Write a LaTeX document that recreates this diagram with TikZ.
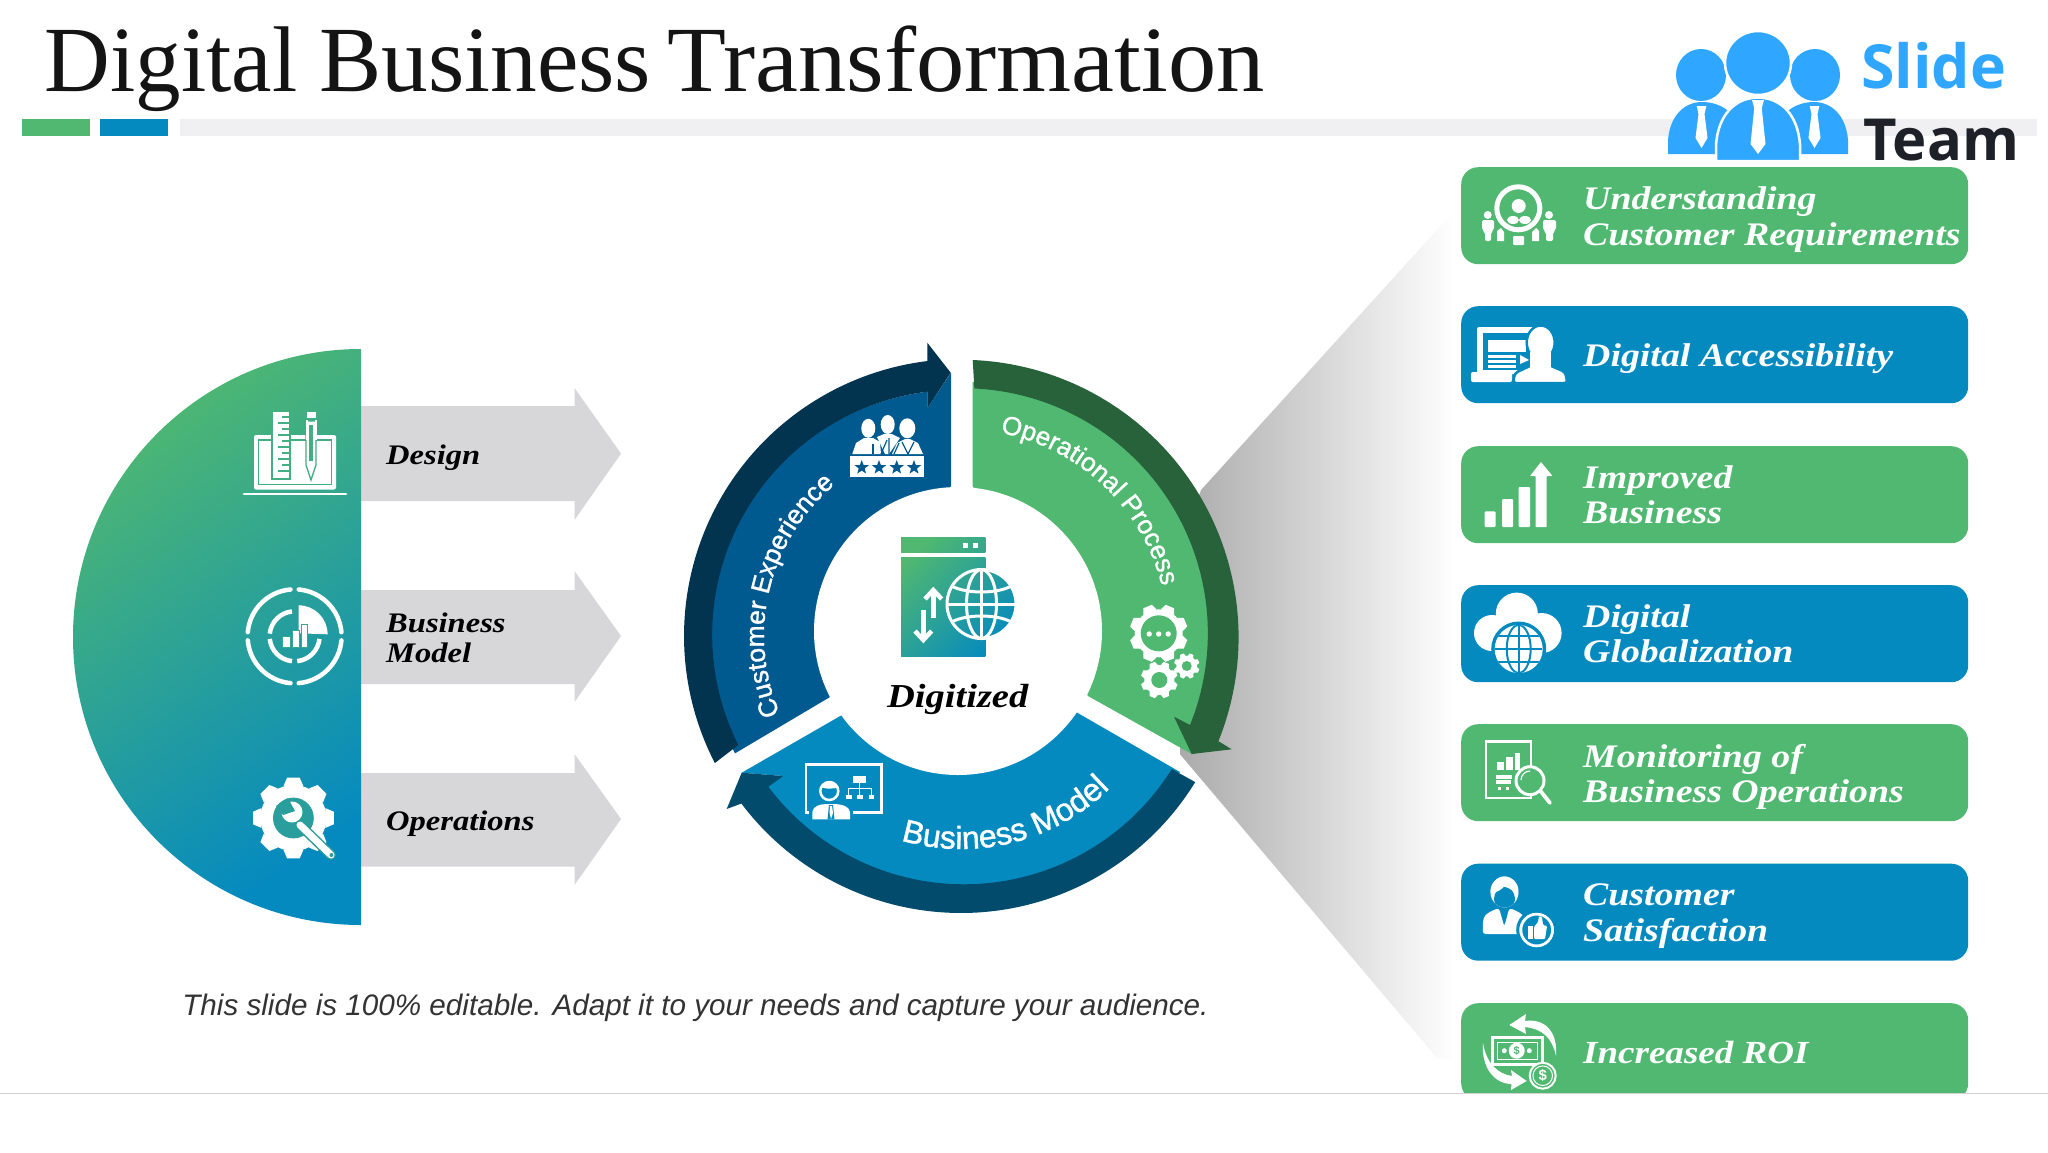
\documentclass[tikz,border=0pt]{standalone}
\usepackage{fontspec}
\usetikzlibrary{shapes.geometric,decorations.text}
\setmainfont{Liberation Serif}
\newfontfamily\geo[FakeStretch=1.15]{Liberation Serif}
\newfontfamily\titleA[FakeStretch=0.975]{Liberation Serif}
\newfontfamily\titleC[FakeStretch=1.034]{Liberation Serif}
\newfontfamily\sans{Liberation Sans}
\newfontfamily\arcfont[FakeBold=1.2]{Liberation Sans}
\newfontfamily\logofont{Open Sans}
\newcommand{\fsz}[1]{\fontsize{#1}{#1}\selectfont}
\definecolor{grn}{HTML}{50B870}
\definecolor{blu}{HTML}{058ABF}
\definecolor{dkgrn}{HTML}{27623A}
\definecolor{midnavy}{HTML}{015A8F}
\definecolor{navy}{HTML}{02344F}
\definecolor{dkblu}{HTML}{024B6C}
\definecolor{arrowgray}{HTML}{D7D7DA}
\definecolor{barlight}{HTML}{F0F0F2}
\definecolor{logoblue}{HTML}{2FA6FF}
\definecolor{logodark}{HTML}{1E2228}
\definecolor{desbg}{HTML}{42AE82}
\definecolor{bmbg}{HTML}{35A690}
\definecolor{opbg}{HTML}{2A9E9C}
% gear: x y Rout Rroot Rhole holecolor offset
\newcommand{\gearicon}[7]{%
  \fill[white] (#1,#2) circle (#4);
  \foreach \a in {0,45,...,315}{
    \fill[white,shift={(#1,#2)},rotate=\a+#7] (#4-1,-0.30*#4) -- (#3,-0.19*#4) -- (#3,0.19*#4) -- (#4-1,0.30*#4) -- cycle;
  }
  \fill[#6] (#1,#2) circle (#5);
}
% logo tie: x top halfwidth bottom
\newcommand{\logotie}[4]{%
  \fill[white] (#1-#3*0.8,#2) -- (#1+#3*0.8,#2) -- (#1+#3*0.5,#2+8) -- (#1+#3,#4-10) -- (#1,#4) -- (#1-#3,#4-10) -- (#1-#3*0.5,#2+8) -- cycle;
}
\tikzset{
  boxstyle/.style={rounded corners=17pt,minimum width=507pt,minimum height=97pt,inner sep=0pt,anchor=north west},
  boxtxt/.style={anchor=west,align=left,inner sep=0pt,text=white,font=\geo\bfseries\itshape\fsz{32.9}},
  armlabel/.style={anchor=west,align=left,inner sep=0pt,text=black,font=\geo\bfseries\itshape\fsz{28.3}},
  arrowshape/.style={fill=arrowgray},
  arclabel/.style={decorate,decoration={text along path,text align=center,raise=0pt}}
}
\begin{document}
\begin{tikzpicture}[x=1pt,y=-1pt]
\useasboundingbox (0,0) rectangle (2048,1152);
\fill[white] (0,0) rectangle (2048,1152);

% ---------- header ----------
\node[anchor=base west,inner sep=0pt,text=black!92,font=\fsz{93.3}] (title) at (44.7,91) {{\titleA Digital}\kern-1.5pt{} Business\kern-6.5pt{} {\titleC Transformation}};
\fill[grn] (22,119) rectangle (90,136);
\fill[blu] (100,119) rectangle (168,136);
\fill[barlight] (180,119) rectangle (2037,136);

% ---------- logo ----------
\fill[logoblue] (1701,75) ellipse (25 and 26);
\fill[logoblue] (1815,75) ellipse (25 and 26);
\fill[logoblue] (1668,154) -- (1668,140) .. controls (1670,115) and (1685,102) .. (1702,102) .. controls (1720,102) and (1735,112) .. (1740,130) -- (1740,154) -- cycle;
\fill[logoblue] (1848,154) -- (1848,140) .. controls (1846,115) and (1831,102) .. (1814,102) .. controls (1796,102) and (1781,112) .. (1776,130) -- (1776,154) -- cycle;
\logotie{1701.5}{106}{6}{148}
\logotie{1814.5}{106}{6}{148}
\filldraw[fill=logoblue,draw=white,line width=2.5pt] (1758,63) ellipse (33 and 32);
\filldraw[fill=logoblue,draw=white,line width=2.5pt] (1716,161) -- (1716,145) .. controls (1718,115) and (1735,97.6) .. (1758,97.6) .. controls (1781,97.6) and (1798,115) .. (1800,145) -- (1800,161) -- cycle;
\logotie{1758}{100}{7.5}{154}
\node[anchor=base west,inner sep=0pt,text=logoblue,font=\logofont\bfseries\fsz{60.8}] (slide) at (1861,88) {Slide};
\node[anchor=base west,inner sep=0pt,text=logodark,font=\logofont\bfseries\fsz{58}] (team) at (1863,160) {Team};

% ---------- left half circle ----------
\fill[arrowshape] (361,406) -- (574.5,406) -- (574.5,388) -- (621,453.6) -- (574.5,520) -- (574.5,501) -- (361,501) -- cycle;
\fill[arrowshape] (361,590) -- (574.5,590) -- (574.5,571) -- (621,636) -- (574.5,702) -- (574.5,684) -- (361,684) -- cycle;
\fill[arrowshape] (361,773) -- (574.5,773) -- (574.5,754) -- (621,819) -- (574.5,885) -- (574.5,866.5) -- (361,866.5) -- cycle;
\shade[left color=grn,right color=blu,shading angle=35] (361,349) arc[start angle=-90,end angle=-270,radius=288] -- cycle;
\node[armlabel] (ldesign) at (386,457.5) {Design};
\node[armlabel,execute at begin node=\setlength{\baselineskip}{30pt}] (lmodel) at (386,638) {Business\\Model};
\node[armlabel] (lops) at (386,823.5) {Operations};

% design icon
\fill[white,rounded corners=2pt] (254,435) rectangle (336,489.5);
\draw[desbg,line width=1.6pt] (258.5,440) rectangle (331.5,484.5);
\draw[white,line width=2.6pt,line cap=round] (244,494) -- (346,494);
\fill[desbg] (270.5,433) rectangle (291,479.5);
\fill[white] (272.7,411.7) rectangle (289.3,478);
\foreach \yy/\ln in {417/7,423/11,429/7,435/11,441/7,447/11,453/7,459/11,465/7,471/11}{
  \draw[desbg,line width=1.5pt] (289.3,\yy) -- (289.3-\ln,\yy);
}
\fill[white] (306.7,411.7) rectangle (315.7,418.3);
\draw[desbg,fill=white,line width=1.4pt] (306,421) -- (316,421) -- (316,465) -- (311,480) -- (306,465) -- cycle;
\fill[desbg] (309.3,425) rectangle (312.7,461);
\fill[white] (305.5,420) rectangle (307.5,440);
\fill[white] (314.5,420) rectangle (316.5,440);

% business model icon
\begin{scope}[shift={(294.6,636.3)}]
\foreach \s in {0,90,180,270}{
  \draw[white,line width=4.5pt,line cap=round] (\s+5:47) arc[start angle=\s+5,end angle=\s+85,radius=47];
}
\foreach \s in {0,90,180}{
  \draw[white,line width=4.5pt] (\s+6:25) arc[start angle=\s+6,end angle=\s+84,radius=25];
}
\fill[white] (4,-31) arc[start angle=-90,end angle=0,radius=29] -- (4,-3) -- cycle;
\filldraw[fill=white,draw=bmbg,line width=1.2pt] (-12,0) rectangle (-4.5,11.5);
\filldraw[fill=white,draw=bmbg,line width=1.2pt] (-2.5,-6) rectangle (5,11.5);
\filldraw[fill=white,draw=bmbg,line width=1.2pt] (6.5,-12) rectangle (12.5,11.5);
\end{scope}

% operations icon
\gearicon{293.4}{818}{40.4}{33}{20.4}{opbg}{0}
\draw[opbg,line width=10pt,line cap=round] (303,828) -- (331,855);
\draw[white,line width=7pt,line cap=round] (300,825) -- (331,855);
\fill[white] (292,812) circle (10.5);
\fill[opbg] (288,798) -- (295,811) -- (283,815) -- (276,806) -- cycle;
\fill[opbg] (331.5,855) circle (2);

% ---------- shadow ----------
\begin{scope}
\clip (1160,600) -- (1201,490) -- (1455,210) -- (1455,1060) -- (1437,1058) -- (1168,740) -- cycle;
\shade[left color=black!33,right color=white] (1180,180) rectangle (1455,1080);
\end{scope}

% ---------- ring ----------
\coordinate (C) at (961,636);
\coordinate (CB) at (961,638);
% green segment
\fill[grn] (972.7,486) -- (972.7,382) arc[start angle=-87.3,end angle=22,radius=255] -- (1191.7,754) -- (1088,696) -- cycle;
\fill[dkgrn] (972.7,360) arc[start angle=-87.6,end angle=22,radius=277.5] -- (1231.7,749.3) -- (1191.7,754) -- (1174,716.7) -- (1190,725) arc[start angle=22,end angle=-87.3,radius=245] -- cycle;
% customer segment
\fill[midnavy] (951,486) -- (951,372.7) -- (927.3,408.3) -- (927.3,391.7) arc[start angle=263,end angle=153,radius=250] -- (830,697) -- cycle;
\fill[navy] (C) ++(152.7:277) arc[start angle=152.7,end angle=263,radius=277] -- (927.3,342.7) -- (950.7,372.7) -- (927.3,408.3) -- (927.3,391.7) arc[start angle=263,end angle=153.3,radius=245] -- cycle;
% business segment
\fill[blu] (1076,712) -- (1180,772) arc[start angle=32,end angle=143,radius=258] -- (783.3,776) -- (741.7,772.7) -- (842,715) -- cycle;
\fill[dkblu] (CB) ++(31.6:275) arc[start angle=31.6,end angle=143,radius=275] -- (726.7,809) -- (741.7,772.7) -- (783.3,776) -- (768.3,786.7) arc[start angle=143,end angle=32,radius=245] -- cycle;
% centre
\fill[white] (958,631) circle (144);

% arc labels
\path[arclabel,decoration={text={|\color{white}\arcfont\fsz{26.3}|Customer Experience}}] (C) ++(140:197) arc[start angle=140,end angle=247,radius=197];
\path[arclabel,decoration={text={|\color{white}\arcfont\fsz{26}|Operational Process}}] (C) ++(-100:207) arc[start angle=-100,end angle=7,radius=207];
\path[arclabel,decoration={text={|\color{white}\arcfont\fsz{32}|Business Model}}] (C) ++(125:213) arc[start angle=125,end angle=27,radius=213];

% centre icon
\foreach \cl in {1,2,3}{
\begin{scope}
  \ifnum\cl=1 \clip (901,537.7) rectangle (985.3,552.3); \fi
  \ifnum\cl=2 \clip (901,557.3) rectangle (985.3,656.7); \fi
  \ifnum\cl=3 \clip (981.5,604) circle (35); \fi
  \shade[left color=grn,right color=blu,shading angle=45] (895,535) rectangle (1020,660);
\end{scope}
}
\fill[white] (963.3,542.7) rectangle (968.3,547.7);
\fill[white] (973.3,542.7) rectangle (978.3,547.7);
\begin{scope}[white,line width=3pt]
\draw (981.5,604) circle (34.5);
\draw (981.5,604) ellipse (15 and 34.5);
\draw (981.5,569.5) -- (981.5,638.5);
\draw (947,604) -- (1016,604);
\draw (951.5,586) .. controls (966.5,594) and (996.5,594) .. (1011.5,586);
\draw (951.5,622) .. controls (966.5,614) and (996.5,614) .. (1011.5,622);
\end{scope}
\begin{scope}[white,line width=4.5pt]
\draw (933.3,590) -- (933.3,618.3);
\draw (925,599) -- (933.3,590) -- (941.6,599);
\draw (923.3,610) -- (923.3,639);
\draw (915,631) -- (923.3,640) -- (931.6,631);
\end{scope}
\node[anchor=center,inner sep=0pt,text=black,font=\geo\bfseries\itshape\fsz{33.5}] (digit) at (957.7,699) {Digitized};

% customer icon
\fill[white] (850,456) rectangle (924.3,477.3);
\foreach \i/\sx in {1/861.7,2/879,3/896.7,4/914}{
  \node[star,star points=5,star point ratio=2.4,fill=midnavy,minimum size=15pt,inner sep=0pt] (st\i) at (\sx,467.5) {};
}
\fill[white] (868.3,428.3) ellipse (7 and 9.5);
\fill[white] (887.7,424.5) ellipse (7 and 9.5);
\fill[white] (907.3,428.3) ellipse (8 and 10);
\fill[white] (852.3,454) -- (856,443) -- (864,438) -- (873,438) -- (880,442) -- (881,454) -- cycle;
\fill[white] (877,437) -- (884,434) -- (892,434) -- (900,438) -- (889,454) -- (885,454) -- cycle;
\fill[white] (892,454) -- (897,443) -- (905,439) -- (910,439) -- (918,443) -- (923,454) -- cycle;
\draw[midnavy,line width=1.2pt] (873,454) -- (873,444);
\draw[midnavy,line width=1.2pt] (881,454) -- (887,440);
\draw[midnavy,line width=1.2pt] (889,454) -- (889,438) (894,454) -- (899,443);
\draw[midnavy,line width=1.2pt] (902,442) -- (908,454) -- (914,442);

% operational gears
\gearicon{1158.7}{633.3}{29}{24}{18}{grn}{22.5}
\foreach \dx in {-9.5,0,9.5}{ \fill[white] (1158.7+\dx,634) circle (2.7); }
\gearicon{1159.3}{680}{18.5}{15}{8}{grn}{22.5}
\gearicon{1186.7}{666}{12.8}{10.3}{5}{grn}{22.5}

% business model icon
\draw[white,line width=2.8pt] (806,764.3) rectangle (881.7,812.7);
\fill[blu] (809,804) rectangle (853,816);
\fill[white] (812.3,819.3) -- (812.3,812) .. controls (813,806) and (820,804) .. (827,804) -- (832,804) .. controls (842,804) and (849,806) .. (850,812) -- (850,819.3) -- cycle;
\draw[white,line width=2.5pt] (829.3,791) circle (9);
\fill[white] (821,787) .. controls (825,781) and (835,781) .. (838,788) .. controls (832,788) and (828,790) .. (821,787) -- cycle;
\fill[blu] (829,805) -- (833,805) -- (834.5,819.3) -- (827.5,819.3) -- cycle;
\fill[white] (830,806) -- (832,806) -- (833,813) -- (831,819) -- (829.5,813) -- cycle;
\fill[white] (853.3,775.7) rectangle (866,782.7);
\draw[white,line width=1.6pt] (859.6,782.7) -- (859.6,788.3) (848.5,795) -- (848.5,788.3) -- (871.5,788.3) -- (871.5,795) (859.6,788.3) -- (859.6,795);
\foreach \bx in {846,857,868.5}{ \fill[white] (\bx,794.5) rectangle (\bx+5.5,798.5); }

% ---------- right boxes ----------
\node[boxstyle,fill=grn] (b1) at (1461,167) {};
\node[boxstyle,fill=blu] (b2) at (1461,306) {};
\node[boxstyle,fill=grn] (b3) at (1461,446) {};
\node[boxstyle,fill=blu] (b4) at (1461,585) {};
\node[boxstyle,fill=grn] (b5) at (1461,724) {};
\node[boxstyle,fill=blu] (b6) at (1461,863.5) {};
\node[boxstyle,fill=grn] (b7) at (1461,1003) {};
\tikzset{twolines/.style={execute at begin node=\setlength{\baselineskip}{35.5pt}}}
\node[boxtxt,twolines] (t1) at ([xshift=122pt,yshift=-4pt]b1.west) {Understanding\\Customer Requirements};
\node[boxtxt] (t2) at ([xshift=122pt,yshift=-4pt]b2.west) {Digital Accessibility};
\node[boxtxt,twolines] (t3) at ([xshift=122pt]b3.west) {Improved\\Business};
\node[boxtxt,twolines] (t4) at ([xshift=122pt]b4.west) {Digital\\Globalization};
\node[boxtxt,twolines] (t5) at ([xshift=122pt,yshift=-4pt]b5.west) {Monitoring of\\Business Operations};
\node[boxtxt,twolines] (t6) at ([xshift=122pt,yshift=-4pt]b6.west) {Customer\\Satisfaction};
\node[boxtxt,font=\geo\bfseries\itshape\fsz{32.2}] (t7) at ([xshift=122pt,yshift=-1pt]b7.west) {Increased ROI};

% box 1 icon
\draw[white,line width=5pt] (1518.3,208.3) circle (21.5);
\fill[white] (1518.7,206) circle (7);
\fill[white] (1513,220) ellipse (6 and 4);
\fill[white] (1525,220) ellipse (6 and 4);
\fill[white,rounded corners=1pt] (1513,236) rectangle (1524,245);
\fill[white] (1487.7,215) circle (4);
\fill[white,rounded corners=2pt] (1482,220) -- (1494,220) -- (1494,230) -- (1491,232) -- (1491,241) -- (1485,241) -- (1485,232) -- (1482,230) -- cycle;
\fill[white] (1549,215) circle (4);
\fill[white,rounded corners=2pt] (1543,220) -- (1556,220) -- (1556,230) -- (1553,232) -- (1553,241) -- (1546,241) -- (1546,232) -- (1543,230) -- cycle;
\fill[white] (1497,231) -- (1501,228) -- (1504,232) -- (1504,241) -- (1497,241) -- cycle;
\fill[white] (1532,232) -- (1536,228) -- (1539,231) -- (1539,241) -- (1532,241) -- cycle;

% box 2 icon
\fill[white,rounded corners=2pt] (1477,327) rectangle (1535,374);
\fill[blu] (1483,333) rectangle (1532,370);
\fill[white,rounded corners=2pt] (1471,372) rectangle (1512,382);
\fill[white] (1488,340) rectangle (1526,352);
\foreach \yy in {355,360,365}{ \fill[white] (1488,\yy) rectangle (1516,\yy+2.5); }
\fill[white] (1520,355) -- (1529,360) -- (1520,364) -- cycle;
\filldraw[fill=white,draw=blu,line width=2.5pt] (1540.7,342.5) ellipse (14 and 17);
\filldraw[fill=white,draw=blu,line width=2.5pt,rounded corners=3pt] (1513,383) -- (1515,373) -- (1532,365) -- (1534,356) -- (1547,356) -- (1549,365) -- (1565,372) -- (1567.5,383) -- cycle;
\fill[white] (1530,352) rectangle (1551,368);

% box 3 icon
\fill[white,rounded corners=1pt] (1484.6,511.4) rectangle (1495.5,527);
\fill[white,rounded corners=1pt] (1502,499) rectangle (1513,527);
\fill[white,rounded corners=1pt] (1518.7,487) rectangle (1530,527);
\fill[white,rounded corners=0.5pt] (1535.5,527) -- (1535.5,476) -- (1530,476) -- (1541,462) -- (1552.5,476) -- (1546.6,476) -- (1546.6,527) -- cycle;

% box 4 icon
\fill[white] (1516.8,613.6) circle (21);
\fill[white] (1492,633) circle (18);
\fill[white] (1541.6,633) circle (20);
\fill[white] (1492,630) rectangle (1541,651);
\fill[blu] (1518.7,649) circle (27.5);
\begin{scope}
\clip (1518.7,649) circle (24);
\fill[white] (1490,620) rectangle (1548,680);
\draw[blu,line width=2pt] (1518.7,625) -- (1518.7,673) (1494,649) -- (1543,649) (1495,636) -- (1542,636) (1495,662) -- (1542,662);
\draw[blu,line width=2pt] (1518.7,649) ellipse (12 and 24);
\end{scope}

% box 5 icon
\draw[white,line width=2.8pt] (1486,741.5) rectangle (1531,798);
\fill[white] (1496.7,761.7) rectangle (1504,770);
\fill[white] (1506,757.3) rectangle (1512.7,770);
\fill[white] (1515,752.7) rectangle (1520,770);
\fill[white] (1496,774.5) rectangle (1512,778.5);
\fill[white] (1496,780) rectangle (1510.5,783.5);
\fill[white] (1498,787) rectangle (1501,790);
\fill[white] (1506,787) rectangle (1509,790);
\filldraw[fill=grn,draw=white,line width=3pt] (1530,780.7) circle (14);
\draw[white,line width=1.2pt] (1521,780) arc[start angle=180,end angle=270,radius=9];
\draw[white,line width=3.8pt,line cap=round] (1540.5,791) -- (1550,803);

% box 6 icon
\fill[white] (1504.5,892) ellipse (14 and 15.5);
\begin{scope}
\clip (1504.5,892) ellipse (14 and 15.5);
\fill[blu] (1504.5,899) ellipse (10.5 and 12);
\fill[white] (1490,876) -- (1520,876) -- (1520,888) .. controls (1514,892) and (1508,889) .. (1505,885) .. controls (1502,890) and (1496,893) .. (1490,893) -- cycle;
\end{scope}
\fill[white,rounded corners=3pt] (1482.7,934) -- (1483,921) .. controls (1485,914) and (1491,911) .. (1499,908) -- (1504.3,926.7) -- (1509.3,908) .. controls (1517,911) and (1523,914) .. (1526,921) -- (1526,934) -- cycle;
\filldraw[fill=blu,draw=white,line width=3pt] (1536.7,930) circle (16);
\draw[blu,line width=3pt] (1536.7,930) circle (19);
\fill[white] (1528,926) rectangle (1533,939);
\fill[white,rounded corners=1pt] (1534,927) -- (1538,922) -- (1539,916) -- (1542,917) -- (1543,925) -- (1547,926) -- (1545,939) -- (1534,939) -- cycle;

% box 7 icon
\draw[white,line width=3pt] (1492,1037) rectangle (1542.5,1064);
\draw[white,line width=1pt] (1497,1042) rectangle (1537.5,1059);
\fill[white] (1516.7,1050.7) circle (8);
\node[inner sep=0pt,text=grn,font=\sans\bfseries\fsz{11}] (dollar1) at (1516.7,1050.7) {\$};
\fill[white] (1504.3,1050.7) circle (2.5);
\fill[white] (1529.3,1050.7) circle (2.5);
\fill[white] (1509.3,1025) -- (1526,1014) -- (1525,1021) .. controls (1545,1018) and (1558,1032) .. (1556,1056) .. controls (1552,1038) and (1543,1029) .. (1525,1027) -- (1526,1034) -- cycle;
\fill[white] (1526.7,1081) -- (1511,1090) -- (1511.5,1084) .. controls (1495,1084) and (1481,1068) .. (1483,1043) .. controls (1486,1062) and (1497,1074) .. (1512,1076) -- (1511,1070) -- cycle;
\filldraw[fill=grn,draw=white,line width=2pt] (1542.7,1075.7) circle (13);
\draw[white,line width=1pt] (1542.7,1075.7) circle (9.8);
\node[inner sep=0pt,text=white,font=\sans\bfseries\fsz{15}] (dollar2) at (1542.7,1075.7) {\$};

% ---------- caption and footer ----------
\node[inner sep=0pt,text=black!80,font=\sans\itshape\fsz{29.65}] (cap) at (695.5,1007.5) {This slide is 100\% editable. Adapt it to your needs and capture your audience.};
\fill[white] (0,1094) rectangle (2048,1152);
\draw[black!18,line width=1.2pt] (0,1093.5) -- (2048,1093.5);
\end{tikzpicture}
\end{document}
